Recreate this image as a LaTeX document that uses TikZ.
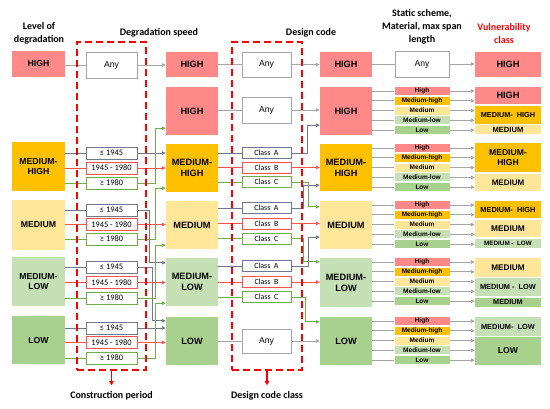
\documentclass[tikz,border=0pt]{standalone}
\usepackage{fontspec}
\setmainfont{Liberation Sans}
\newfontfamily\calf{Carlito}
\usetikzlibrary{arrows.meta,calc}
\definecolor{cHigh}{RGB}{255,137,137}
\definecolor{cMH}{RGB}{255,192,0}
\definecolor{cMed}{RGB}{255,230,153}
\definecolor{cML}{RGB}{197,224,180}
\definecolor{cLow}{RGB}{169,209,142}
\definecolor{lgray}{RGB}{166,166,166}
\definecolor{lslate}{RGB}{110,122,140}
\definecolor{lred}{RGB}{255,80,80}
\definecolor{lgreen}{RGB}{112,173,71}
\begin{document}
\begin{tikzpicture}[x=1pt,y=-1pt,
  big/.style={inner sep=0, align=center, font=\bfseries\fontsize{9.2}{10.8}\selectfont},
  lbig/.style={big, font=\bfseries\fontsize{8.7}{10.8}\selectfont, minimum width=53pt},
  cbig/.style={big, minimum width=52pt},
  wbox/.style={draw=lgray, line width=0.9pt, fill=white, inner sep=0, font=\fontsize{8.6}{9}\selectfont},
  per/.style={draw=#1, line width=0.9pt, fill=white, inner sep=0, minimum width=51pt, minimum height=12pt, font=\calf\fontsize{8.4}{9}\selectfont},
  cls/.style={per=#1, minimum width=49pt, minimum height=11pt, font=\calf\fontsize{7.9}{9}\selectfont},
  bar/.style={fill=#1, inner sep=0, minimum width=55pt, minimum height=8pt, font=\bfseries\fontsize{6.5}{7}\selectfont},
  vul/.style={fill=#1, inner sep=0, minimum width=66pt, align=center},
  ttl/.style={font=\calf\bfseries\fontsize{10}{12.8}\selectfont, align=center, inner sep=0},
  ln/.style={line width=0.8pt, draw=#1},
  ar/.style={ln=#1, -{Triangle[length=4pt,width=3.5pt]}},
  dbox/.style={draw=red, line width=1.8pt, dash pattern=on 7pt off 4pt, inner sep=0},
  redar/.style={draw=red, line width=1.5pt, -{Triangle[length=4.5pt,width=4.5pt]}}
]
\useasboundingbox (0,0) rectangle (550,408);

% titles
\node[ttl] (t1) at (39,33.5) {Level of\\degradation};
\node[ttl] (t2) at (159,33) {Degradation speed};
\node[ttl] (t3) at (311,33) {Design code};
\node[ttl] (t4) at (422,27) {Static scheme,\\Material, max span\\length};
\node[ttl, text=red] (t5) at (504,33.5) {Vulnerability\\class};
\node[ttl] (t6) at (111.5,396) {Construction period};
\node[ttl] (t7) at (267,396) {Design code class};

% column 1
\node[lbig, fill=cHigh, minimum height=26pt] (l1) at (38.5,64) {HIGH};
\node[lbig, fill=cMH, minimum height=49pt] (l2) at (38.5,166.5) {MEDIUM-\\HIGH};
\node[lbig, fill=cMed, minimum height=50pt] (l3) at (38.5,224.5) {MEDIUM};
\node[lbig, fill=cML, minimum height=49pt] (l4) at (38.5,281.5) {MEDIUM-\\LOW};
\node[lbig, fill=cLow, minimum height=48pt] (l5) at (38.5,340) {LOW};

% column 2
\node[wbox, minimum width=51pt, minimum height=26pt] (a1) at (111.5,65) {Any};
\node[per=lslate] (p21) at (111.5,153) {≤ 1945};
\node[per=lred] (p22) at (111.5,168) {1945 - 1980};
\node[per=lgreen] (p23) at (111.5,183) {≥ 1980};
\node[per=lslate] (p31) at (111.5,210) {≤ 1945};
\node[per=lred] (p32) at (111.5,224.5) {1945 - 1980};
\node[per=lgreen] (p33) at (111.5,239) {≥ 1980};
\node[per=lslate] (p41) at (111.5,267) {≤ 1945};
\node[per=lred] (p42) at (111.5,282.5) {1945 - 1980};
\node[per=lgreen] (p43) at (111.5,298) {≥ 1980};
\node[per=lslate] (p51) at (111.5,328) {≤ 1945};
\node[per=lred] (p52) at (111.5,342.5) {1945 - 1980};
\node[per=lgreen] (p53) at (111.5,358) {≥ 1980};

% column 3
\node[cbig, fill=cHigh, minimum height=25pt] (b1) at (192,64.5) {HIGH};
\node[cbig, fill=cHigh, minimum height=48pt] (b2) at (192,111) {HIGH};
\node[cbig, fill=cMH, minimum height=48pt] (b3) at (192,168) {MEDIUM-\\HIGH};
\node[cbig, fill=cMed, minimum height=48pt] (b4) at (192,225) {MEDIUM};
\node[cbig, fill=cML, minimum height=48pt] (b5) at (192,282) {MEDIUM-\\LOW};
\node[cbig, fill=cLow, minimum height=48pt] (b6) at (192,341) {LOW};

% design code column
\node[wbox, minimum width=49pt, minimum height=25pt] (d1) at (266.5,64.5) {Any};
\node[wbox, minimum width=49pt, minimum height=26pt] (d2) at (266.5,110) {Any};
\node[cls=lslate] (d31) at (266.5,153) {Class\ \ A};
\node[cls=lred] (d32) at (266.5,167.5) {Class\ \ B};
\node[cls=lgreen] (d33) at (266.5,182) {Class\ \ C};
\node[cls=lslate] (d41) at (266.5,208) {Class\ \ A};
\node[cls=lred] (d42) at (266.5,223.5) {Class\ \ B};
\node[cls=lgreen] (d43) at (266.5,238.5) {Class\ \ C};
\node[cls=lslate] (d51) at (266.5,266) {Class\ \ A};
\node[cls=lred] (d52) at (266.5,282) {Class\ \ B};
\node[cls=lgreen] (d53) at (266.5,297) {Class\ \ C};
\node[wbox, minimum width=49pt, minimum height=24pt] (d6) at (266.5,341) {Any};

% column 4
\node[cbig, fill=cHigh, minimum height=25pt] (e1) at (346,64.5) {HIGH};
\node[cbig, fill=cHigh, minimum height=48pt] (e2) at (346,111) {HIGH};
\node[cbig, fill=cMH, minimum height=47pt] (e3) at (346,167.5) {MEDIUM-\\HIGH};
\node[cbig, fill=cMed, minimum height=48pt] (e4) at (346,225) {MEDIUM};
\node[cbig, fill=cML, minimum height=49pt] (e5) at (346,282.5) {MEDIUM-\\LOW};
\node[cbig, fill=cLow, minimum height=48pt] (e6) at (346,341) {LOW};

% static scheme column
\node[wbox, minimum width=54pt, minimum height=26pt] (f1) at (422,64) {Any};
\foreach \g/\t in {2/87,3/144,4/201,5/258,6/317}{
  \foreach \lab/\col [count=\i from 0] in {High/cHigh,Medium-high/cMH,Medium/cMed,Medium-low/cML,Low/cLow}{
    \node[bar=\col] (s\g\i) at (422,{\t+4+9.8*\i}) {\lab};
    \draw[ln=lgray] (s\g\i.west -| e\g.east) -- (s\g\i.west);
  }
}

% vulnerability column
\node[vul=cHigh, minimum height=25pt, font=\bfseries\fontsize{9.2}{10}\selectfont] (v1) at (508,64.5) {HIGH};
\node[vul=cHigh, minimum height=17pt, font=\bfseries\fontsize{9.2}{10}\selectfont] (v2a) at (508,95.5) {HIGH};
\node[vul=cMH, minimum height=18pt, font=\bfseries\fontsize{7.3}{8}\selectfont] (v2b) at (508,115) {MEDIUM-\ \ HIGH};
\node[vul=cMed, minimum height=9pt, font=\bfseries\fontsize{7.6}{8}\selectfont] (v2c) at (508,129.5) {MEDIUM};
\node[vul=cMH, minimum height=29pt, font=\bfseries\fontsize{8.6}{10}\selectfont] (v3a) at (508,157.5) {MEDIUM-\\HIGH};
\node[vul=cMed, minimum height=17pt, font=\bfseries\fontsize{8}{9}\selectfont] (v3b) at (508,182.5) {MEDIUM};
\node[vul=cMH, minimum height=17pt, font=\bfseries\fontsize{7.4}{8}\selectfont] (v4a) at (508,209.5) {MEDIUM-\ \ HIGH};
\node[vul=cMed, minimum height=17pt, font=\bfseries\fontsize{8.3}{9}\selectfont] (v4b) at (508,228.5) {MEDIUM};
\node[vul=cML, minimum height=9pt, font=\bfseries\fontsize{6.3}{7}\selectfont] (v4c) at (508,243.5) {MEDIUM -\ \ LOW};
\node[vul=cMed, minimum height=19pt, font=\bfseries\fontsize{8.2}{9}\selectfont] (v5a) at (508,267.5) {MEDIUM};
\node[vul=cML, minimum height=18pt, font=\bfseries\fontsize{7.4}{8}\selectfont] (v5b) at (508,287) {MEDIUM -\ \ LOW};
\node[vul=cLow, minimum height=9pt, font=\bfseries\fontsize{7.3}{8}\selectfont] (v5c) at (508,302.5) {MEDIUM};
\node[vul=cML, minimum height=19pt, font=\bfseries\fontsize{7.4}{8}\selectfont] (v6a) at (508,326.5) {MEDIUM-\ \ LOW};
\node[vul=cLow, minimum height=28pt, font=\bfseries\fontsize{8.6}{9}\selectfont] (v6b) at (508,351) {LOW};

% bars -> vulnerability
\foreach \g/\i/\v in {2/0/v2a,2/1/v2a,2/2/v2b,2/3/v2b,2/4/v2c,
  3/0/v3a,3/1/v3a,3/2/v3a,3/3/v3b,3/4/v3b,
  4/0/v4a,4/1/v4a,4/2/v4b,4/3/v4b,4/4/v4c,
  5/0/v5a,5/1/v5a,5/2/v5b,5/3/v5b,5/4/v5c,
  6/0/v6a,6/1/v6a,6/2/v6b,6/3/v6b,6/4/v6b}{
  \draw[ar=lgray] (s\g\i.east) -- (s\g\i.east -| \v.west);
}
\draw[ln=lgray] (e1.east) -- (e1.east -| f1.west);
\draw[ar=lgray] (f1.east) -- (f1.east -| v1.west);

% column 1 -> column 2
\draw[ln=lgray] (l1.east |- a1.west) -- (a1.west);
\foreach \g in {2,3,4,5}{
  \draw[ln=lslate] (l\g.east |- p\g1.west) -- (p\g1.west);
  \draw[ln=lred] (l\g.east |- p\g2.west) -- (p\g2.west);
  \draw[ln=lgreen] (l\g.east |- p\g3.west) -- (p\g3.west);
}

% column 2 -> column 3
\draw[ar=lgray] (a1.east) -- (a1.east -| b1.west);
\draw[ar=lslate] (p21.east) -- (p21.east -| b3.west);
\draw[ar=lred] (p22.east) -- (p22.east -| b3.west);
\draw[ar=lgreen] (p23.east) -- ++(18,0) |- ($(b2.south west)+(0,-7)$);
\draw[ar=lslate] (p31.east) -- ++(12,0) |- ($(b5.north west)+(0,5)$);
\draw[ar=lred] (p32.east) -- (p32.east -| b4.west);
\draw[ar=lgreen] (p33.east) -- ++(18,0) |- ($(b3.south west)+(0,-4)$);
\draw[ar=lslate] (p41.east) -- ++(15,0) |- ($(b6.north west)+(0,4)$);
\draw[ar=lred] (p42.east) -- (p42.east -| b5.west);
\draw[ar=lgreen] (p43.east) -- ++(18,0) |- ($(b4.south west)+(0,-4)$);
\draw[ar=lslate] (p51.east) -- (p51.east -| b6.west);
\draw[ar=lred] (p52.east) -- (p52.east -| b6.west);
\draw[ar=lgreen] (p53.east) -- ++(18,0) |- ($(b5.south west)+(0,-3)$);

% column 3 -> design code
\draw[ln=lgray] (d1.west -| b1.east) -- (d1.west);
\draw[ln=lgray] (d2.west -| b2.east) -- (d2.west);
\foreach \g in {3,4,5}{
  \draw[ln=lslate] (d\g1.west -| b\g.east) -- (d\g1.west);
  \draw[ln=lred] (d\g2.west -| b\g.east) -- (d\g2.west);
  \draw[ln=lgreen] (d\g3.west -| b\g.east) -- (d\g3.west);
}
\draw[ln=lgray] (d6.west -| b6.east) -- (d6.west);

% design code -> column 4
\draw[ar=lgray] (d1.east) -- (d1.east -| e1.west);
\draw[ar=lgray] (d2.east) -- (d2.east -| e2.west);
\draw[ar=lslate] (d31.east) -- ++(16,0) |- ($(e2.south west)+(0,-10)$);
\draw[ar=lred] (d32.east) -- (d32.east -| e3.west);
\draw[ar=lgreen] (d33.east) -- ++(17,0) |- ($(e4.north west)+(0,6)$);
\draw[ar=lslate] (d41.east) -- ++(12,0) |- ($(e3.south west)+(0,-6)$);
\draw[ar=lred] (d42.east) -- (d42.east -| e4.west);
\draw[ar=lgreen] (d43.east) -- ++(12,0) |- ($(e5.north west)+(0,4)$);
\draw[ar=lslate] (d51.east) -- ++(17,0) |- ($(e4.south west)+(0,-12)$);
\draw[ar=lred] (d52.east) -- (d52.east -| e5.west);
\draw[ar=lgreen] (d53.east) -- ++(14,0) |- ($(e6.north west)+(0,5)$);
\draw[ar=lgray] (d6.east) -- (d6.east -| e6.west);

% dashed groups
\node[dbox, minimum width=69pt, minimum height=328pt] (g1) at (111.5,206) {};
\node[dbox, minimum width=70pt, minimum height=328pt] (g2) at (267,206) {};
\draw[redar] (g1.south) -- ($(t6.north)+(0,-6)$);
\draw[redar] (g2.south) -- ($(t7.north)+(0,-6)$);
\end{tikzpicture}
\end{document}
